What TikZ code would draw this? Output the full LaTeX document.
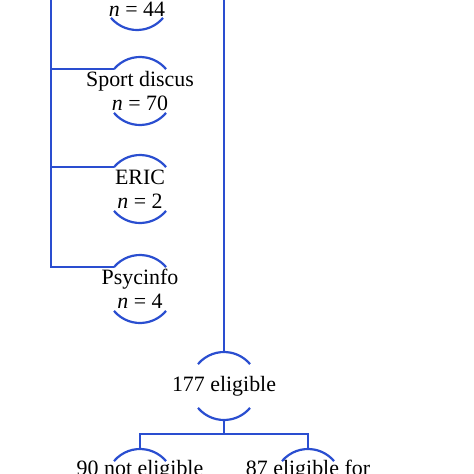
\documentclass[tikz,border=0pt]{standalone}
\usepackage{fontspec}
\setmainfont{Liberation Serif}
\definecolor{flowblue}{RGB}{42,78,208}
\begin{document}
\begin{tikzpicture}[x=1pt,y=1pt,
  flow/.style={draw=flowblue,line width=2.2pt},
  src/.style={align=center,inner sep=0pt,font=\fontsize{21.9}{24}\selectfont},
]
\useasboundingbox (0,0) rectangle (474,-474);
\clip (0,0) rectangle (474,-474);
% nodes
\node[src] (pm)  at (137,4)      {\strut\\\textit{n} = 44};
\node[src] (sd)  at (140,-91)    {Sport discus\\\textit{n} = 70};
\node[src] (er)  at (140,-189)   {ERIC\\\textit{n} = 2};
\node[src] (ps)  at (140,-289)   {Psycinfo\\\textit{n} = 4};
\node[src] (el)  at (224,-386)   {177 eligible};
\node[src] (ne)  at (140,-483)   {90 not eligible\\\strut};
\node[src] (ok)  at (308,-483)   {87 eligible for\\\strut};
% arcs
\foreach \n in {pm,sd,er,ps,el,ne,ok}{
  \draw[flow] ([shift={(140:34pt)}]\n.center) arc[start angle=140,end angle=40,radius=34pt];
  \draw[flow] ([shift={(220:34pt)}]\n.center) arc[start angle=220,end angle=320,radius=34pt];
  \coordinate (\n-tl) at ([shift={(140:34pt)}]\n.center);
  \coordinate (\n-top) at ([shift={(90:34pt)}]\n.center);
  \coordinate (\n-bot) at ([shift={(270:34pt)}]\n.center);
}
% connectors
\coordinate (ltop) at (51,10);
\coordinate (rtop) at (224,10);
\draw[flow] (ltop) |- (ps-tl);
\draw[flow] (sd-tl) -- (sd-tl -| ltop);
\draw[flow] (er-tl) -- (er-tl -| ltop);
\draw[flow] (rtop) -- (el-top);
\coordinate (split) at (224,-434);
\draw[flow] (el-bot) -- (split);
\draw[flow] (ne-top) |- (split) -| (ok-top);
\end{tikzpicture}
\end{document}
